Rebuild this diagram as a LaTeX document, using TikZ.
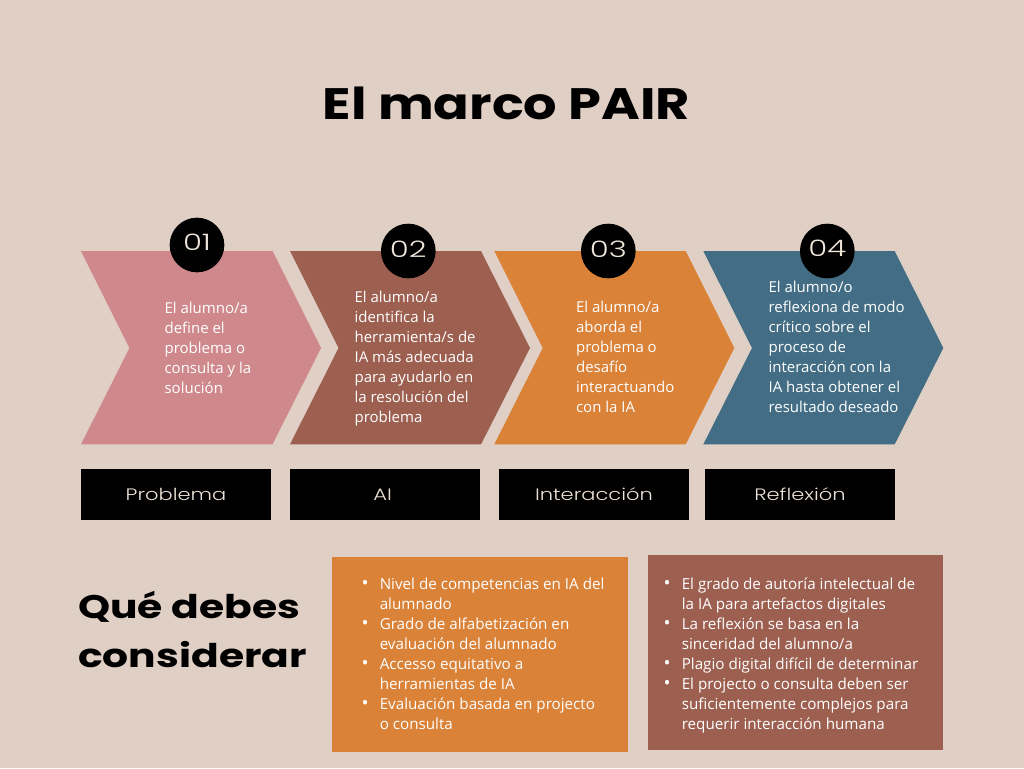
\documentclass[tikz,border=0pt]{standalone}
\usepackage{fontspec}
\setmainfont{Open Sans}
\newfontfamily\headfont[FakeStretch=1.196]{Poppins}
\newfontfamily\subheadfont[FakeStretch=1.25]{Poppins}
\newfontfamily\labelfont[FakeStretch=1.27]{Poppins Light}
\newfontfamily\numfont[FakeStretch=1.36]{Poppins Light}
\definecolor{bgc}{HTML}{DFCFC4}
\definecolor{pinkc}{HTML}{CF888C}
\definecolor{brownc}{HTML}{9C5F50}
\definecolor{orangec}{HTML}{DA8238}
\definecolor{bluec}{HTML}{426D84}
\definecolor{creamc}{HTML}{EFE6DA}
\newcommand{\bl}{\llap{\raisebox{-0.4pt}{\fontsize{14pt}{15pt}\selectfont\textbullet}\hspace{8.3pt}}}
\newcommand{\numtxt}[1]{\raisebox{3.4pt}{#1}}
\tikzset{
  x=0.75pt,y=-0.75pt,
  body/.style={text=white,anchor=north west,inner sep=0pt,align=left,font=\fontsize{11.25pt}{15pt}\selectfont},
  listtext/.style={text=white,anchor=north west,inner sep=0pt,align=left,font=\fontsize{11.4pt}{15pt}\selectfont},
  num/.style={circle,fill=black,minimum size=41pt,inner sep=0pt,text=creamc,font=\numfont\fontsize{17pt}{20pt}\selectfont},
  tag/.style={fill=black,text=creamc!85!bgc,inner sep=0pt,minimum width=142.5pt,minimum height=38.25pt,font=\labelfont\fontsize{12.4pt}{15pt}\selectfont},
  head/.style={inner sep=0pt,text=black,font=\headfont\bfseries\fontsize{33pt}{40pt}\selectfont},
  subhead/.style={inner sep=0pt,anchor=north west,align=left,text=black,font=\subheadfont\bfseries\fontsize{24.5pt}{37pt}\selectfont},
}
\begin{document}
\begin{tikzpicture}
\useasboundingbox (0,0) rectangle (1024,768);
\fill[bgc] (0,0) rectangle (1024,768);
\node[head] (title) at (506.5,103) {El marco PAIR};
% chevrons
\fill[pinkc] (81,251) -- (272.5,251) -- (321,348) -- (272.5,444.3) -- (81,444.3) -- (129.5,348) -- cycle;
\fill[brownc] (290,251) -- (481,251) -- (530,348) -- (481,444.3) -- (290,444.3) -- (338.5,348) -- cycle;
\fill[orangec] (494.3,251) -- (685.7,251) -- (734.3,348) -- (685.7,444.3) -- (494.3,444.3) -- (542.7,348) -- cycle;
\fill[bluec] (703.3,251) -- (894.7,251) -- (943.3,348) -- (894.7,444.3) -- (703.3,444.3) -- (752,348) -- cycle;
% circles
\node[num] (n1) at (197,245) {\numtxt{01}};
\node[num] (n2) at (408.3,251) {\numtxt{02}};
\node[num] (n3) at (608.3,251) {\numtxt{03}};
\node[num] (n4) at (827.3,251) {\numtxt{04}};
% chevron text
\node[body] (t1) at (164.3,301.5) {El alumno/a\\define el\\problema o\\consulta y la\\solución};
\node[body] (t2) at (354.3,290.5) {El alumno/a\\identifica la\\herramienta/s de\\IA más adecuada\\para ayudarlo en\\la resolución del\\problema};
\node[body] (t3) at (575.8,300.5) {El alumno/a\\aborda el\\problema o\\desafío\\interactuando\\con la IA};
\node[body] (t4) at (768.3,280.5) {El alumno/o\\reflexiona de modo\\crítico sobre el\\proceso de\\interacción con la\\IA hasta obtener el\\resultado deseado};
% tags
\node[tag] (l1) at (176,494.5) {Problema};
\node[tag] (l2) at (385,494.5) {\kern-3.5pt AI};
\node[tag] (l3) at (594,494.5) {Interacción};
\node[tag] (l4) at (800,494.5) {Reflexión};
% bottom
\node[subhead] (q) at (78,591) {Qué debes\\considerar};
\fill[orangec] (332,557) rectangle (627.5,751.7);
\fill[brownc] (648,555.3) rectangle (943.3,750);
\node[listtext] (a) at (379.5,577.5) {\bl Nivel de competencias en IA del\\alumnado\\\bl Grado de alfabetización en\\evaluación del alumnado\\\bl Accesso equitativo a\\herramientas de IA\\\bl Evaluación basada en projecto\\o consulta};
\node[listtext] (b) at (681.5,577.5) {\bl El grado de autoría intelectual de\\la IA para artefactos digitales\\\bl La reflexión se basa en la\\sinceridad del alumno/a\\\bl Plagio digital difícil de determinar\\\bl El projecto o consulta deben ser\\suficientemente complejos para\\requerir interacción humana};
\end{tikzpicture}
\end{document}
